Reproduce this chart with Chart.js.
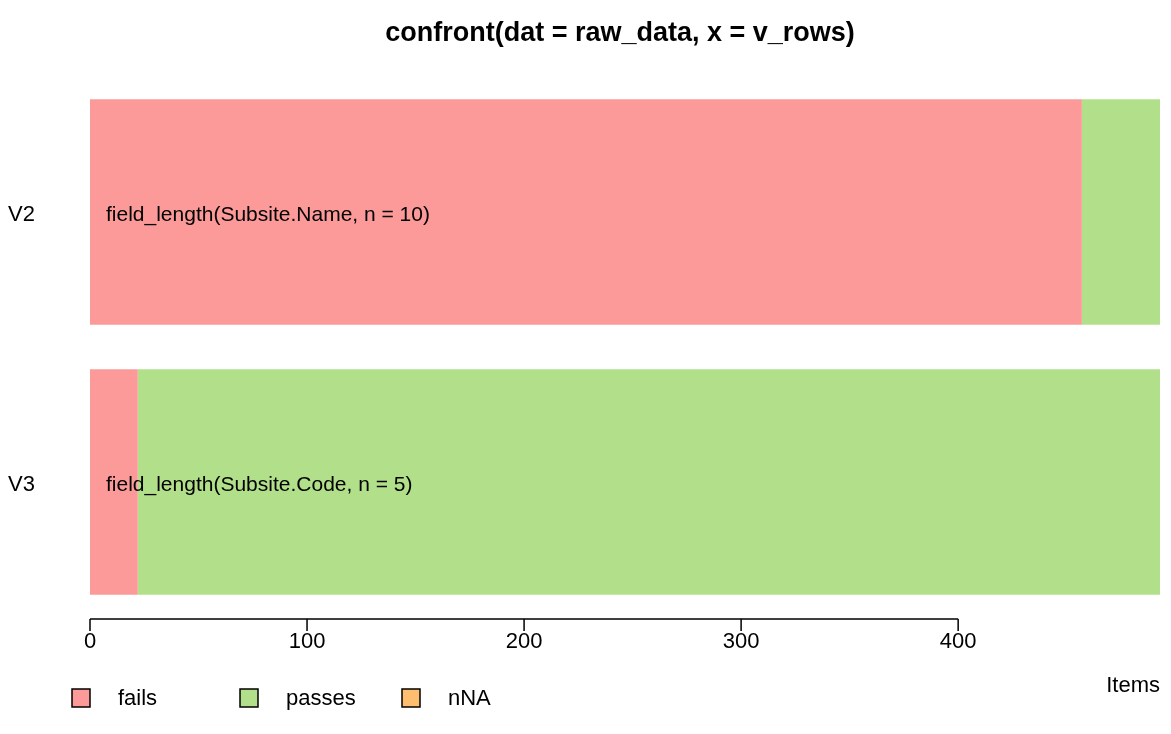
<!DOCTYPE html>
<html>
<head>
<meta charset="utf-8">
<script src="https://cdn.jsdelivr.net/npm/chart.js@4"></script>
<style>
  html, body { margin: 0; padding: 0; background: #fff; }
  #wrap { width: 1171px; height: 734px; }
</style>
</head>
<body>
<div id="wrap"><canvas id="c" width="1171" height="734"></canvas></div>
<script>
const categories = ['V2', 'V3'];
const rules = ['field_length(Subsite.Name, n = 10)', 'field_length(Subsite.Code, n = 5)'];
const fails = [457, 22];
const passes = [36, 471];
const nNA = [0, 0];
const tickValues = [0, 100, 200, 300, 400];

const colors = { fails: '#FB9A99', passes: '#B2DF8A', nNA: '#FDBF6F' };
const FONT = '"Liberation Sans", Arial, sans-serif';

const overlay = {
  id: 'overlay',
  afterDraw(chart) {
    const { ctx } = chart;
    const x = chart.scales.x, y = chart.scales.y;
    ctx.save();
    ctx.fillStyle = '#000';
    // title
    ctx.font = 'bold 27px ' + FONT;
    ctx.textAlign = 'center';
    ctx.textBaseline = 'middle';
    ctx.fillText('confront(dat = raw_data, x = v_rows)', 620, 34);
    // category labels and rule text
    categories.forEach((c, i) => {
      const py = y.getPixelForValue(i);
      ctx.font = '22px ' + FONT;
      ctx.textAlign = 'left';
      ctx.fillText(c, 8, py + 3);
      ctx.font = '21px ' + FONT;
      ctx.fillText(rules[i], 106, py + 3);
    });
    // x axis
    const ay = 619;
    ctx.strokeStyle = '#000';
    ctx.lineWidth = 1.5;
    ctx.beginPath();
    ctx.moveTo(x.getPixelForValue(tickValues[0]), ay);
    ctx.lineTo(x.getPixelForValue(tickValues[tickValues.length - 1]), ay);
    tickValues.forEach(v => {
      const px = x.getPixelForValue(v);
      ctx.moveTo(px, ay);
      ctx.lineTo(px, ay + 12);
    });
    ctx.stroke();
    ctx.font = '22px ' + FONT;
    ctx.textAlign = 'center';
    tickValues.forEach(v => ctx.fillText(String(v), x.getPixelForValue(v), 642));
    ctx.textAlign = 'right';
    ctx.fillText('Items', 1160, 686);
    // legend
    const leg = [['fails', colors.fails, 72], ['passes', colors.passes, 240], ['nNA', colors.nNA, 402]];
    ctx.textAlign = 'left';
    leg.forEach(([t, col, lx]) => {
      ctx.fillStyle = col;
      ctx.fillRect(lx, 689, 18, 18);
      ctx.strokeRect(lx, 689, 18, 18);
      ctx.fillStyle = '#000';
      ctx.fillText(t, lx + 46, 699);
    });
    ctx.restore();
  }
};

new Chart(document.getElementById('c'), {
  type: 'bar',
  data: {
    labels: categories,
    datasets: [
      { label: 'fails', data: fails, backgroundColor: colors.fails },
      { label: 'passes', data: passes, backgroundColor: colors.passes },
      { label: 'nNA', data: nNA, backgroundColor: colors.nNA }
    ]
  },
  options: {
    indexAxis: 'y',
    responsive: false,
    animation: false,
    layout: { padding: { left: 90, right: 11, top: 77, bottom: 117 } },
    datasets: { bar: { barPercentage: 0.836, categoryPercentage: 1, borderWidth: 0 } },
    scales: {
      x: { stacked: true, min: 0, max: 493, display: false },
      y: { stacked: true, display: false }
    },
    plugins: { legend: { display: false }, tooltip: { enabled: false } }
  },
  plugins: [overlay]
});
</script>
</body>
</html>
